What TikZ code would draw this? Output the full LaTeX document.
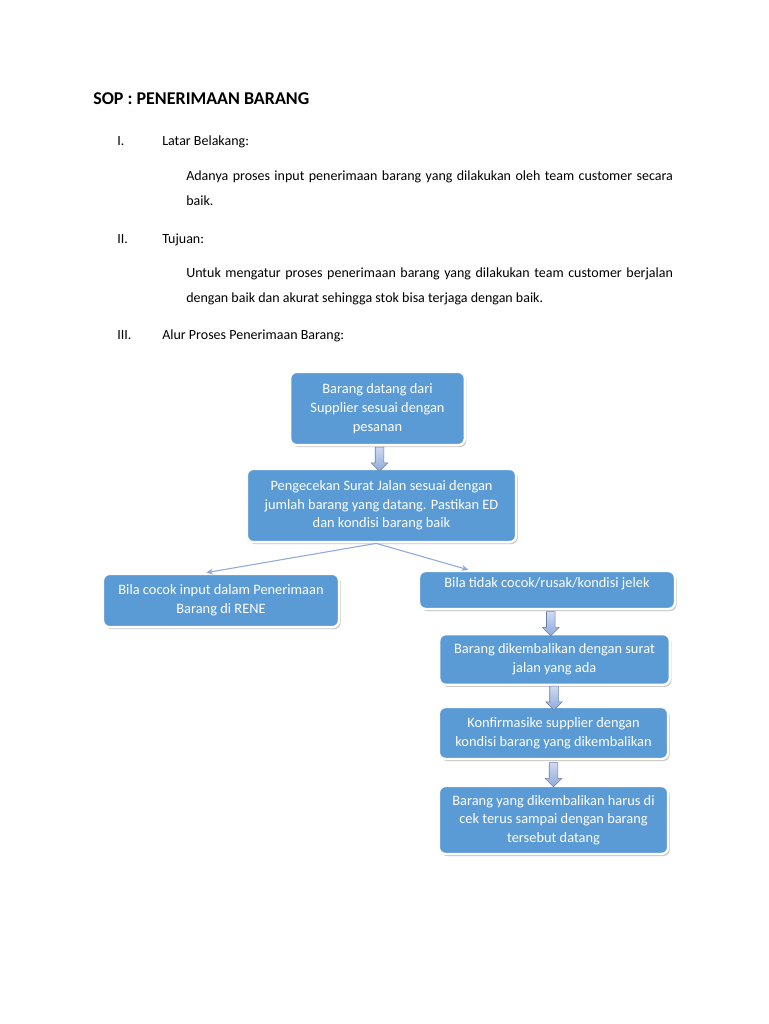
\documentclass[tikz,border=0pt]{standalone}
\usepackage{fontspec}
\setmainfont{Carlito}
\usetikzlibrary{shapes.arrows}
\usetikzlibrary{shadows}
\usetikzlibrary{arrows.meta}
\definecolor{blue1}{RGB}{91, 155, 213}
\definecolor{blue2}{RGB}{142, 170, 219}
\definecolor{blue3}{RGB}{205, 218, 242}

\begin{document}
\begin{tikzpicture}[x=0.75pt, y=-0.75pt,
  txt/.style={anchor=base west, inner sep=0, font=\fontsize{10.5}{18.75}\selectfont},
  para/.style={anchor=north west, inner sep=0, text width=365pt, align=justify, font=\fontsize{10.5}{18.75}\selectfont},
  sopbox/.style={rectangle, rounded corners=5pt, fill=blue1, draw=white, line width=1.8pt, text=white, align=center, inner sep=2pt,
    font=\fontsize{10.8}{14}\selectfont, drop shadow={shadow xshift=1.2pt, shadow yshift=-1.5pt, fill=black!45, opacity=0.5}},
  down/.style={single arrow, shape border rotate=270, inner sep=3pt, single arrow head extend=3pt, minimum height=18pt,
    top color=blue3, bottom color=blue2, draw=blue2!75!black, line width=0.4pt}]
  \fill[white] (0,0) rectangle (768,1024);
  \useasboundingbox (0,0) rectangle (768,1024);

  \node[anchor=base west, inner sep=0, font=\bfseries\fontsize{13.5}{16}\selectfont] (title) at (93,104) {SOP : PENERIMAAN BARANG};

  \node[txt] (num1) at (117,145) {I.};
  \node[txt] (head1) at (162,145) {Latar Belakang:};
  \node[para] (par1) at (186,171) {Adanya proses input penerimaan barang yang dilakukan oleh team customer secara baik.};

  \node[txt] (num2) at (117,243) {II.};
  \node[txt] (head2) at (162,243) {Tujuan:};
  \node[para] (par2) at (186,268) {Untuk mengatur proses penerimaan barang yang dilakukan team customer berjalan dengan baik dan akurat sehingga stok bisa terjaga dengan baik.};

  \node[txt] (num3) at (117,339) {III.};
  \node[txt] (head3) at (162,339) {Alur Proses Penerimaan Barang:};

  % flow boxes
  \node[sopbox, minimum width=131pt, minimum height=55pt] (box1) at (377.5,408.5) {Barang datang dari\\Supplier sesuai dengan\\pesanan};
  \node[sopbox, minimum width=202pt, minimum height=55pt] (box2) at (381.5,505.5) {Pengecekan Surat Jalan sesuai dengan\\jumlah barang yang datang. Pastikan ED\\dan kondisi barang baik};
  \node[sopbox, minimum width=177pt, minimum height=40pt] (box3) at (221,600.5) {Bila cocok input dalam Penerimaan\\Barang di RENE};
  \node[sopbox, minimum width=192pt, minimum height=28.5pt, text depth=12pt] (box4) at (547,590) {Bila tidak cocok/rusak/kondisi jelek};
  \node[sopbox, minimum width=173pt, minimum height=38pt] (box5) at (554.5,659.5) {Barang dikembalikan dengan surat\\jalan yang ada};
  \node[sopbox, minimum width=172pt, minimum height=39pt] (box6) at (553.5,733) {Konfirmasike supplier dengan\\kondisi barang yang dikembalikan};
  \node[sopbox, minimum width=172pt, minimum height=51pt] (box7) at (553.5,820) {Barang yang dikembalikan harus di\\cek terus sampai dengan barang\\tersebut datang};

  \foreach \from/\to in {box1/box2, box4/box5, box5/box6, box6/box7}
    \path (\from.south) -- (\to.north) node[down, midway] {};

  \foreach \to/\dx in {box3/-11pt, box4/-59pt}
    \draw[blue2, line width=0.8pt, -{Stealth[length=5pt,width=4.5pt]}] ([xshift=-4pt]box2.south) -- ([xshift=\dx]\to.north);
\end{tikzpicture}
\end{document}
